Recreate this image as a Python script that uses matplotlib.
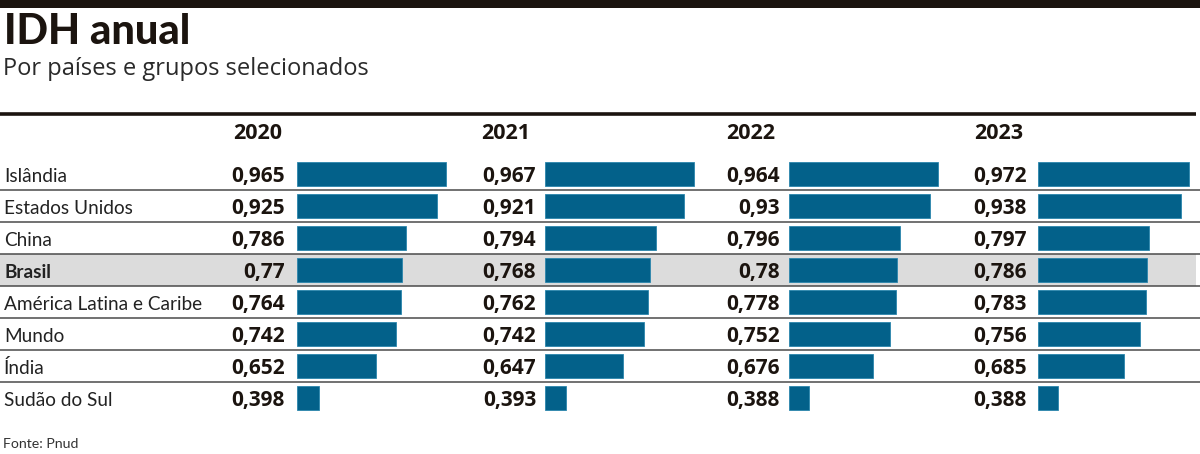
import matplotlib
matplotlib.use("Agg")
import matplotlib.pyplot as plt
from matplotlib.patches import Rectangle

# ---- data ----
title = "IDH anual"
subtitle = "Por países e grupos selecionados"
source = "Fonte: Pnud"
years = ["2020", "2021", "2022", "2023"]
categories = ["Islândia", "Estados Unidos", "China", "Brasil",
              "América Latina e Caribe", "Mundo", "Índia", "Sudão do Sul"]
v2020 = [0.965, 0.925, 0.786, 0.770, 0.764, 0.742, 0.652, 0.398]
v2021 = [0.967, 0.921, 0.794, 0.768, 0.762, 0.742, 0.647, 0.393]
v2022 = [0.964, 0.930, 0.796, 0.780, 0.778, 0.752, 0.676, 0.388]
v2023 = [0.972, 0.938, 0.797, 0.786, 0.783, 0.756, 0.685, 0.388]
highlight = "Brasil"

series = [v2020, v2021, v2022, v2023]

def fmt(v):
    s = f"{v:.3f}".rstrip("0")
    return s.replace(".", ",")

# ---- layout (pixels) ----
W, H = 1200, 454
DARK = "#1b140f"
BLUE = "#03618a"
GRAY = "#dcdcdc"
LINE = "#4a4a4a"

row0 = 174
rowh = 32
bar_left = [297, 545, 789, 1038]
val_right = [285, 536, 780, 1027]
year_right = [282, 530, 775, 1023]
px_per_unit = 224
xmin, xmax = 0.3, 1.0

fig = plt.figure(figsize=(W / 100, H / 100), dpi=100)
bg = fig.add_axes([0, 0, 1, 1])
bg.set_xlim(0, W)
bg.set_ylim(H, 0)
bg.axis("off")

# top bar
bg.add_patch(Rectangle((0, 0), W, 8, color=DARK, lw=0))
# title & subtitle
bg.text(4, 44, title, fontsize=30, fontweight=900,
        family=["Lato", "DejaVu Sans"], color=DARK, va="baseline")
bg.text(3, 75, subtitle, fontsize=17, family=["Open Sans", "DejaVu Sans"],
        color="#2a2a2a", va="baseline")
# header line
bg.plot([0, 1196], [114, 114], color=DARK, lw=2.6, solid_capstyle="butt")

n = len(categories)
top = row0 - rowh / 2
# highlight row
hi = categories.index(highlight)
bg.add_patch(Rectangle((0, top + hi * rowh), 1196, rowh, color=GRAY, lw=0, zorder=0))
# separators
for i in range(1, n):
    y = top + i * rowh
    bg.plot([0, 1200], [y, y], color=LINE, lw=1.1, zorder=1)

# year headers
for j, yr in enumerate(years):
    bg.text(year_right[j], 139, yr, fontsize=15.5, fontweight="bold",
            family=["Open Sans", "DejaVu Sans"], color=DARK, ha="right", va="baseline")

# row labels and values
for i, cat in enumerate(categories):
    yb = row0 + i * rowh + 8
    bg.text(4, yb, cat, fontsize=13.7, family=["Lato", "DejaVu Sans"],
            fontweight="bold" if cat == highlight else "normal",
            color="#222222", ha="left", va="baseline")
    for j, vals in enumerate(series):
        bg.text(val_right[j], yb, fmt(vals[i]), fontsize=15, fontweight="bold",
                family=["Open Sans", "DejaVu Sans"], color=DARK,
                ha="right", va="baseline")

# bars
ax_h = n * rowh
for j, vals in enumerate(series):
    wpx = (xmax - xmin) * px_per_unit
    ax = fig.add_axes([bar_left[j] / W, (H - (top + ax_h)) / H, wpx / W, ax_h / H])
    ax.patch.set_alpha(0)
    ax.set_xlim(xmin, xmax)
    ax.set_ylim(n - 0.5, -0.5)
    ax.barh(range(n), [v - xmin for v in vals], left=xmin, height=0.78,
            color=BLUE, edgecolor="#2a86ad", linewidth=0.6)
    ax.axis("off")

bg.text(3, 448, source, fontsize=10.2, family=["Lato", "DejaVu Sans"],
        color="#333333", va="baseline")

fig.savefig("out.png", dpi=100)
